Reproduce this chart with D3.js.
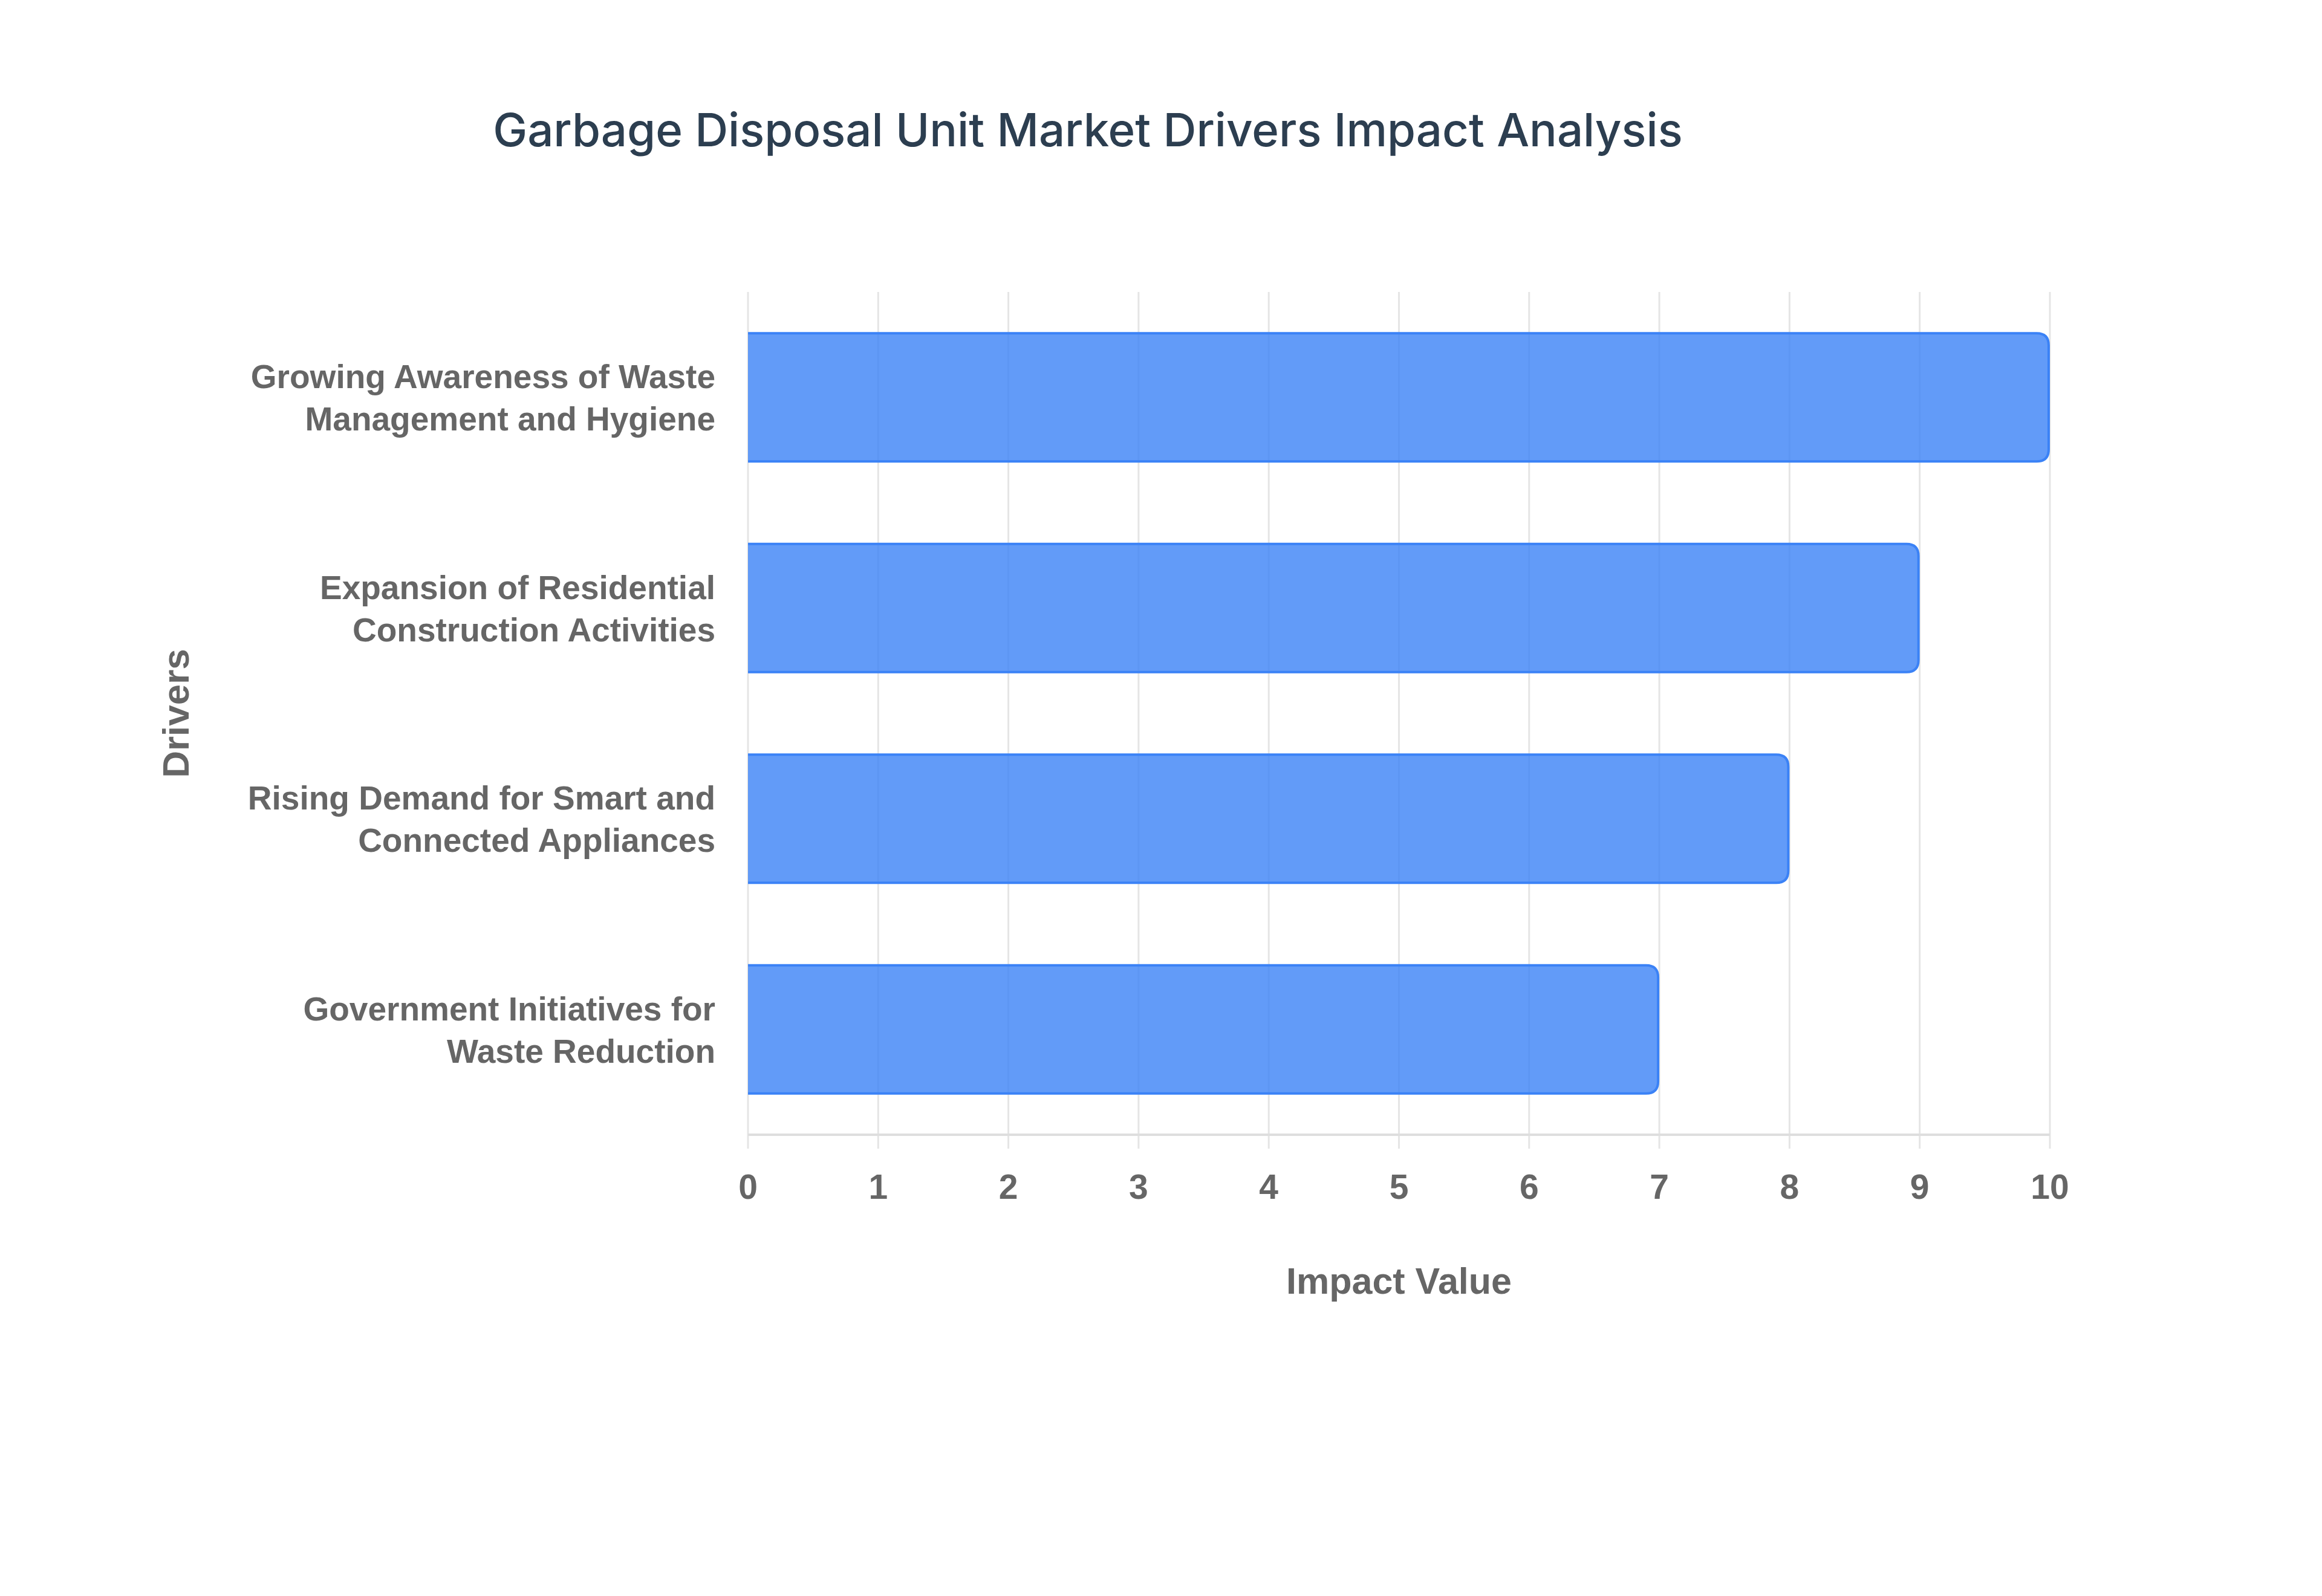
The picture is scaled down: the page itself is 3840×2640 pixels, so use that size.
<!DOCTYPE html>
<html lang="en">
<head>
  <meta charset="UTF-8">
  <title>Garbage Disposal Unit Market Drivers Impact Analysis</title>
  <style>
    body {
      margin: 0;
      padding: 0;
      background-color: #ffffff;
    }
    svg {
      display: block;
    }
  </style>
</head>
<body>
<div id="chart"></div>
<script src="https://d3js.org/d3.v7.min.js"></script>
<script>
  // data
  const drivers = [
    "Growing Awareness of Waste Management and Hygiene",
    "Expansion of Residential Construction Activities",
    "Rising Demand for Smart and Connected Appliances",
    "Government Initiatives for Waste Reduction"
  ];
  const driverLines = [
    ["Growing Awareness of Waste", "Management and Hygiene"],
    ["Expansion of Residential", "Construction Activities"],
    ["Rising Demand for Smart and", "Connected Appliances"],
    ["Government Initiatives for", "Waste Reduction"]
  ];
  const impactValues = [10, 9, 8, 7];
  const xTicks = [0, 1, 2, 3, 4, 5, 6, 7, 8, 9, 10];

  const chartTitle = "Garbage Disposal Unit Market Drivers Impact Analysis";
  const xTitle = "Impact Value";
  const yTitle = "Drivers";

  const width = 3840;
  const height = 2640;
  const plot = { left: 1237, right: 3390, top: 483, bottom: 1877 };
  const labelFont = "'Liberation Sans', Arial, Helvetica, sans-serif";

  const svg = d3.select("#chart").append("svg")
          .attr("width", width)
          .attr("height", height);

  svg.append("rect").attr("width", width).attr("height", height).attr("fill", "#ffffff");

  const xScale = d3.scaleLinear().domain([0, 10]).range([plot.left, plot.right]);
  const yScale = d3.scaleBand().domain(drivers).range([plot.top, plot.bottom])
          .paddingInner(0.38).paddingOuter(0.19);

  // vertical grid lines (run a little below the axis as tick marks)
  svg.append("g").selectAll("line")
          .data(xTicks)
          .enter()
          .append("line")
          .attr("x1", d => xScale(d))
          .attr("x2", d => xScale(d))
          .attr("y1", plot.top)
          .attr("y2", plot.bottom + 23)
          .attr("stroke", "#e5e5e5")
          .attr("stroke-width", 3);

  // bottom axis line
  svg.append("line")
          .attr("x1", xScale(0))
          .attr("x2", xScale(10))
          .attr("y1", plot.bottom)
          .attr("y2", plot.bottom)
          .attr("stroke", "#dedede")
          .attr("stroke-width", 4);

  // bars: flat start, rounded end
  const r = 20;
  const bw = 4;
  function barPath(d, i) {
    const x0 = xScale(0);
    const x1 = xScale(d) - bw / 2;
    const y0 = yScale(drivers[i]) + bw / 2;
    const y1 = yScale(drivers[i]) + yScale.bandwidth() - bw / 2;
    return `M${x0},${y0} H${x1 - r} Q${x1},${y0} ${x1},${y0 + r} V${y1 - r} Q${x1},${y1} ${x1 - r},${y1} H${x0}`;
  }

  const bars = svg.append("g");
  bars.selectAll("path.fill")
          .data(impactValues)
          .enter()
          .append("path")
          .attr("class", "fill")
          .attr("d", (d, i) => barPath(d, i) + " Z")
          .attr("fill", "rgba(59, 130, 246, 0.8)");
  bars.selectAll("path.edge")
          .data(impactValues)
          .enter()
          .append("path")
          .attr("class", "edge")
          .attr("d", barPath)
          .attr("fill", "none")
          .attr("stroke", "#3b82f6")
          .attr("stroke-width", bw);

  // x tick labels
  svg.append("g").selectAll("text")
          .data(xTicks)
          .enter()
          .append("text")
          .attr("x", d => xScale(d))
          .attr("y", 1983)
          .attr("text-anchor", "middle")
          .attr("font-family", labelFont)
          .attr("font-weight", "bold")
          .attr("font-size", 57)
          .attr("fill", "#666666")
          .text(d => d);

  // y category labels, two lines each
  const yLabels = svg.append("g").selectAll("text")
          .data(drivers)
          .enter()
          .append("text")
          .attr("text-anchor", "end")
          .attr("font-family", labelFont)
          .attr("font-weight", "bold")
          .attr("font-size", 55)
          .attr("fill", "#666666");
  yLabels.each(function(d, i) {
    const cy = yScale(d) + yScale.bandwidth() / 2;
    d3.select(this).selectAll("tspan")
            .data(driverLines[i])
            .enter()
            .append("tspan")
            .attr("x", 1183)
            .attr("y", (t, j) => cy - 15 + j * 70)
            .text(t => t);
  });

  // axis titles
  svg.append("text")
          .attr("x", (plot.left + plot.right) / 2)
          .attr("y", 2140)
          .attr("text-anchor", "middle")
          .attr("font-family", labelFont)
          .attr("font-weight", "bold")
          .attr("font-size", 61)
          .attr("fill", "#666666")
          .text(xTitle);

  svg.append("text")
          .attr("transform", `translate(312, ${(plot.top + plot.bottom) / 2}) rotate(-90)`)
          .attr("text-anchor", "middle")
          .attr("font-family", labelFont)
          .attr("font-weight", "bold")
          .attr("font-size", 62)
          .attr("fill", "#666666")
          .text(yTitle);

  // chart title, sized to span the same width as the original
  const title = svg.append("text")
          .attr("x", 1799)
          .attr("y", 242)
          .attr("text-anchor", "middle")
          .attr("font-family", "Inter, 'Noto Sans', sans-serif")
          .attr("font-weight", 500)
          .attr("font-size", 100)
          .attr("fill", "#2c3e50")
          .text(chartTitle);
  const w = title.node().getComputedTextLength();
  title.attr("font-size", 100 * 1968 / w);
</script>
</body>
</html>
